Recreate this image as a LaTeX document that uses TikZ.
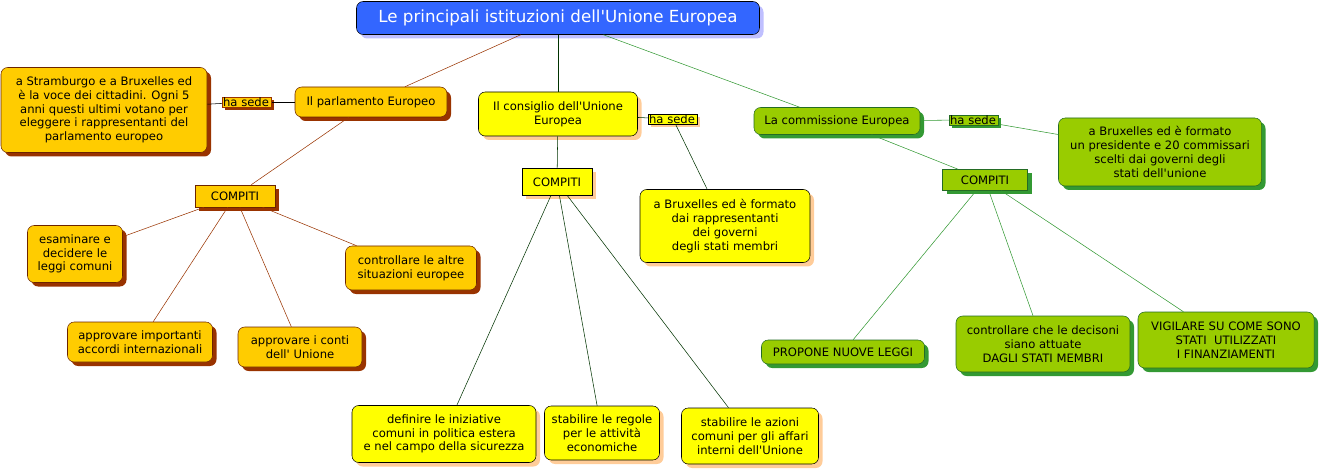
\documentclass[tikz,border=0pt]{standalone}
\usepackage{fontspec}
\setmainfont{DejaVu Sans}[Ligatures=TeXOff]
\usetikzlibrary{shadows}
\definecolor{orf}{HTML}{FFCC00}\definecolor{orb}{HTML}{993300}
\definecolor{yef}{HTML}{FFFF00}\definecolor{yes}{HTML}{FFCC99}
\definecolor{grf}{HTML}{99CC00}\definecolor{grb}{HTML}{339933}
\definecolor{blf}{HTML}{3366FF}
\begin{document}
\begin{tikzpicture}[x=0.75pt,y=-0.75pt,
 box/.style={rounded corners=5pt,draw,align=center,font=\fontsize{8.7}{10.3}\selectfont,inner sep=2pt},
 ob/.style={box,fill=orf,draw=orb!70!black,drop shadow={shadow xshift=3pt,shadow yshift=-3pt,fill=orb,opacity=1}},
 yb/.style={box,fill=yef,draw=black,drop shadow={shadow xshift=3pt,shadow yshift=-3pt,fill=yes,opacity=1}},
 gb/.style={box,fill=grf,draw=grb!70!black,drop shadow={shadow xshift=3pt,shadow yshift=-3pt,fill=grb,opacity=1}},
 sq/.style={rounded corners=0pt},
 lab/.style={draw,font=\fontsize{8.7}{10}\selectfont,inner sep=0.5pt,drop shadow={shadow xshift=2pt,shadow yshift=-2pt,opacity=1}},
 ol/.style={draw=orb,thin}, yl/.style={draw=black!80!green,thin}, gl/.style={draw=grb,thin}]
\useasboundingbox (0,0) rectangle (1320,470);
\node[box,fill=blf,draw=black,text=white,font=\fontsize{12.5}{14}\selectfont,minimum width=403*0.75pt,minimum height=33*0.75pt,drop shadow={shadow xshift=3pt,shadow yshift=-3pt,fill=blue!25,opacity=1}] (t) at (558,18) {Le principali istituzioni dell'Unione Europea};
% left
\node[ob,minimum width=152*0.75pt,minimum height=30*0.75pt] (p) at (371,102) {Il parlamento Europeo};
\node[lab,fill=orf,draw=orb,drop shadow={shadow xshift=2pt,shadow yshift=-2pt,fill=orb,opacity=1}] (ph) at (247,102) {ha sede\,};
\node[ob,minimum width=206*0.75pt,minimum height=85*0.75pt] (ps) at (104,110) {a Stramburgo e a Bruxelles ed\\è la voce dei cittadini. Ogni 5\\anni questi ultimi votano per\\eleggere i rappresentanti del\\parlamento europeo};
\node[ob,sq,minimum width=80*0.75pt,minimum height=22*0.75pt] (pc) at (235,196) {COMPITI};
\node[ob,minimum width=95*0.75pt,minimum height=57*0.75pt] (p1) at (75,254) {esaminare e\\decidere le\\leggi comuni};
\node[ob,minimum width=131*0.75pt,minimum height=44*0.75pt] (p2) at (411,268) {controllare le altre\\situazioni europee};
\node[ob,minimum width=145*0.75pt,minimum height=40*0.75pt] (p3) at (140,342) {approvare importanti\\accordi internazionali};
\node[ob,minimum width=124*0.75pt,minimum height=40*0.75pt] (p4) at (300,347) {approvare i conti\\dell' Unione};
\draw[ol] (t) -- (p); \draw[black] (p) -- (ph); \draw[black] (ph) -- (ps);
\draw[ol] (p) -- (pc); \foreach \n in {p1,p2,p3,p4} \draw[ol] (pc) -- (\n);
% middle
\node[yb,minimum width=159*0.75pt,minimum height=44*0.75pt] (c) at (558,114) {Il consiglio dell'Unione\\Europea};
\node[lab,fill=yef,drop shadow={shadow xshift=2pt,shadow yshift=-2pt,fill=yes,opacity=1}] (ch) at (673,119) {ha sede\,};
\node[yb,sq,minimum width=70*0.75pt,minimum height=27*0.75pt] (cc) at (557,182) {COMPITI};
\node[yb,minimum width=170*0.75pt,minimum height=73*0.75pt] (cs) at (725,226) {a Bruxelles ed è formato\\dai rappresentanti\\dei governi\\degli stati membri};
\node[yb,minimum width=184*0.75pt,minimum height=57*0.75pt] (c1) at (444,434) {definire le iniziative\\comuni in politica estera\\e nel campo della sicurezza};
\node[yb,minimum width=115*0.75pt,minimum height=54*0.75pt] (c2) at (602,433) {stabilire le regole\\per le attività\\economiche};
\node[yb,minimum width=137*0.75pt,minimum height=56*0.75pt] (c3) at (750,436) {stabilire le azioni\\comuni per gli affari\\interni dell'Unione};
\draw[yl] (t) -- (c); \draw[yl] (c) -- (ch); \draw[yl] (ch) -- (cs); \draw[yl] (c) -- (cc);
\foreach \n in {c1,c2,c3} \draw[yl] (cc) -- (\n);
% right
\node[gb,minimum width=166*0.75pt,minimum height=27*0.75pt] (m) at (837,121) {La commissione Europea};
\node[lab,fill=grf,draw=grb!70!black,drop shadow={shadow xshift=2pt,shadow yshift=-2pt,fill=grb,opacity=1}] (mh) at (974,120) {ha sede\,};
\node[gb,minimum width=203*0.75pt,minimum height=68*0.75pt] (ms) at (1160,152) {a Bruxelles ed è formato\\un presidente e 20 commissari\\scelti dai governi degli\\stati dell'unione};
\node[gb,sq,minimum width=85*0.75pt,minimum height=21*0.75pt] (mc) at (985,180) {COMPITI};
\node[gb,minimum width=163*0.75pt,minimum height=24*0.75pt] (m1) at (843,352) {PROPONE NUOVE LEGGI};
\node[gb,minimum width=174*0.75pt,minimum height=56*0.75pt] (m2) at (1043,344) {controllare che le decisoni\\siano attuate\\DAGLI STATI MEMBRI};
\node[gb,minimum width=176*0.75pt,minimum height=56*0.75pt] (m3) at (1226,340) {VIGILARE SU COME SONO\\STATI \ UTILIZZATI\\I FINANZIAMENTI};
\draw[gl] (t) -- (m); \draw[gl] (m) -- (mh); \draw[gl] (mh) -- (ms); \draw[gl] (m) -- (mc);
\foreach \n in {m1,m2,m3} \draw[gl] (mc) -- (\n);
\end{tikzpicture}
\end{document}
